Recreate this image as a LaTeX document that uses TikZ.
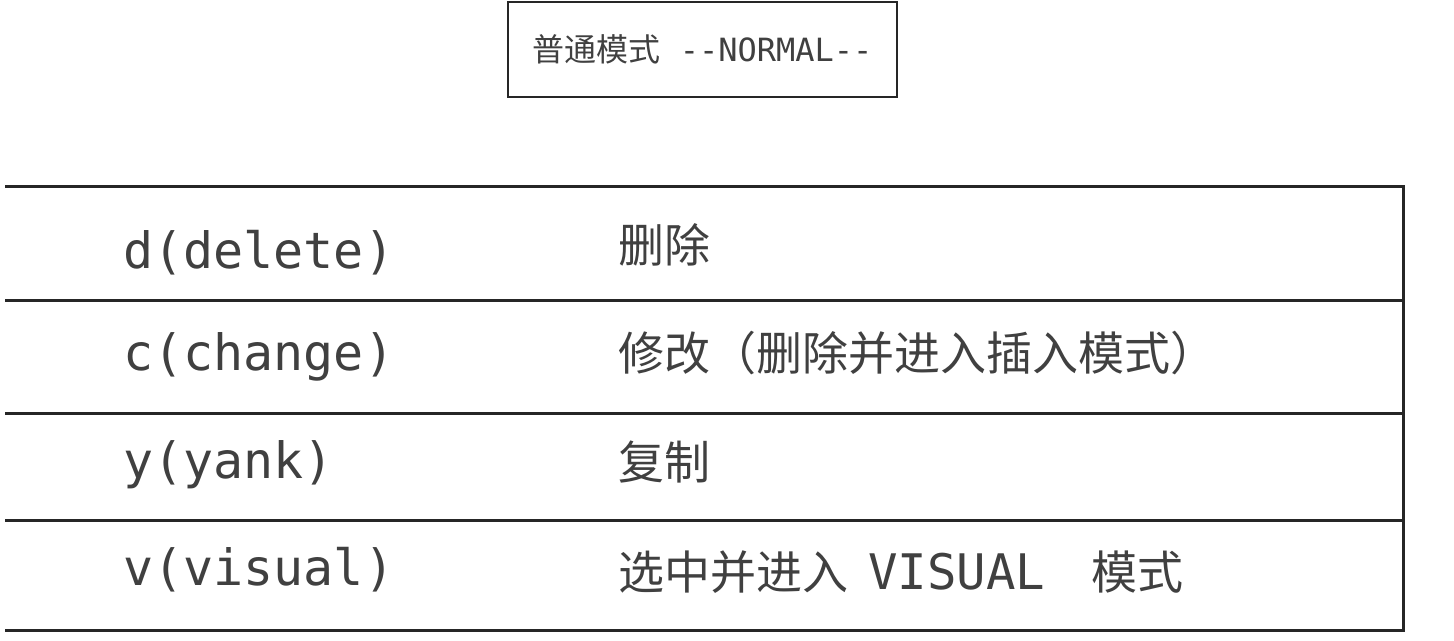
\documentclass[tikz,border=0pt]{standalone}
\usepackage{fontspec}
\setmonofont{DejaVu Sans Mono}
\newfontfamily\cjk{Noto Sans CJK SC}
\begin{document}
\begin{tikzpicture}[x=1pt,y=-1pt,
  ln/.style={draw=black!85,line width=3pt},
  en/.style={anchor=west,font=\fontsize{50}{52}\selectfont\ttfamily,text=black!75,inner sep=0},
  zh/.style={anchor=west,font=\fontsize{46}{50}\selectfont\cjk,text=black!75,inner sep=0}]
\useasboundingbox (0,0) rectangle (1454,640);
\node[draw=black!85,line width=2.5pt,minimum width=389pt,minimum height=95pt,inner sep=0,text=black!75] (title) at (702.5,49.5)
  {\fontsize{32}{34}\selectfont{\cjk 普通模式}\ \ \ttfamily --NORMAL--};
\coordinate (tl) at (5,186); \coordinate (tr) at (1403,186);
\coordinate (l1) at (5,300); \coordinate (r1) at (1403,300);
\coordinate (l2) at (5,413); \coordinate (r2) at (1403,413);
\coordinate (l3) at (5,520); \coordinate (r3) at (1403,520);
\coordinate (bl) at (5,630); \coordinate (br) at (1403,630);
\draw[ln] (tl) -- (tr) -- (br) -- (bl);
\draw[ln] (l1) -- (r1);
\draw[ln] (l2) -- (r2);
\draw[ln] (l3) -- (r3);
\node[en] (k1) at (123,253) {d(delete)};
\node[en] (k2) at (123,357) {c(change)};
\node[en] (k3) at (123,465) {y(yank)};
\node[en] (k4) at (123,570) {v(visual)};
\node[zh] (v1) at (618,245) {删除};
\node[zh] (v2) at (618,353) {修改（删除并进入插入模式）};
\node[zh] (v3) at (618,462) {复制};
\node[zh] (v4) at (618,572) {选中并进入\hspace{20pt}{\fontsize{49}{52}\selectfont\ttfamily VISUAL}\hspace{46pt}模式};
\end{tikzpicture}
\end{document}
